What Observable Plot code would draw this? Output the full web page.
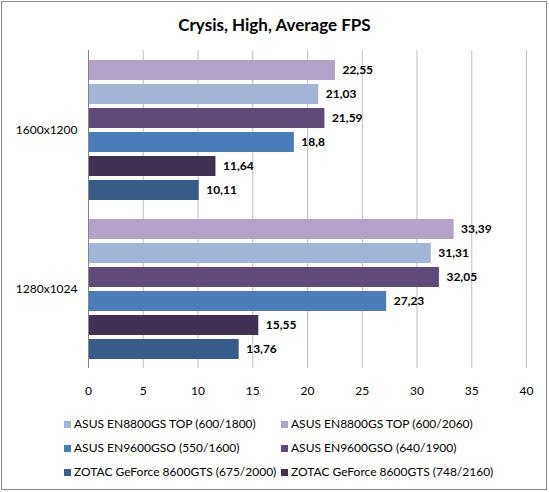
<!DOCTYPE html>
<html>
<head>
<meta charset="utf-8">
<script src="https://cdn.jsdelivr.net/npm/d3@7"></script>
<script src="https://cdn.jsdelivr.net/npm/@observablehq/plot@0.6"></script>
<style>
  html, body { margin: 0; padding: 0; background: #fff; }
  #wrap { position: relative; width: 549px; height: 492px; overflow: hidden; font-family: Lato, "Open Sans", sans-serif; }
  #frame { position: absolute; left: 1px; top: 1px; width: 544px; height: 487px; border: 1px solid #8a8a8a; }
  #title { position: absolute; left: 0; width: 549px; top: 14px; line-height: 22px; text-align: center; font-weight: bold; font-size: 17px; color: #000; }
  #chart { position: absolute; left: 0; top: 0; }
  .leg { position: absolute; font-size: 12px; line-height: 14px; color: #000; white-space: nowrap; }
  .sw { position: absolute; width: 7px; height: 7px; }
</style>
</head>
<body>
<div id="wrap">
  <div id="frame"></div>
  <div id="title">Crysis, High, Average FPS</div>
  <div id="chart"></div>
</div>
<script>
const categories = ["1600x1200", "1280x1024"];
const seriesNames = [
  "ASUS EN8800GS TOP (600/2060)",
  "ASUS EN8800GS TOP (600/1800)",
  "ASUS EN9600GSO (640/1900)",
  "ASUS EN9600GSO (550/1600)",
  "ZOTAC GeForce 8600GTS (748/2160)",
  "ZOTAC GeForce 8600GTS (675/2000)"
];
const en8800_2060 = [22.55, 33.39];
const en8800_1800 = [21.03, 31.31];
const en9600_1900 = [21.59, 32.05];
const en9600_1600 = [18.8, 27.23];
const zotac_2160 = [11.64, 15.55];
const zotac_2000 = [10.11, 13.76];
const xTicks = [0, 5, 10, 15, 20, 25, 30, 35, 40];
const legendOrder = [
  "ASUS EN8800GS TOP (600/1800)", "ASUS EN8800GS TOP (600/2060)",
  "ASUS EN9600GSO (550/1600)", "ASUS EN9600GSO (640/1900)",
  "ZOTAC GeForce 8600GTS (675/2000)", "ZOTAC GeForce 8600GTS (748/2160)"
];

const seriesValues = [en8800_2060, en8800_1800, en9600_1900, en9600_1600, zotac_2160, zotac_2000];
const colors = ["#b3a2c7", "#a2b5d7", "#604a7b", "#4a7ebb", "#403152", "#385d8a"];

const data = [];
categories.forEach((c, ci) => {
  seriesNames.forEach((s, si) => {
    data.push({category: c, series: s, value: seriesValues[si][ci]});
  });
});

const fmt = v => String(v).replace(".", ",");

const chart = Plot.plot({
  width: 549,
  height: 400,
  marginTop: 50,
  marginBottom: 32,
  marginLeft: 88,
  marginRight: 23,
  style: {fontFamily: "Lato, 'Open Sans', sans-serif", background: "transparent", color: "#000"},
  x: {domain: [0, 40], axis: null},
  y: {domain: seriesNames, paddingInner: 0.18, paddingOuter: 0.335, axis: null},
  fy: {domain: categories, padding: 0, axis: null},
  color: {domain: seriesNames, range: colors},
  marks: [
    Plot.gridX({ticks: xTicks.slice(1), stroke: "#bfbfbf", strokeOpacity: 1}),
    Plot.barX(data, {x: "value", y: "series", fy: "category", fill: "series"}),
    Plot.text(data, {x: "value", y: "series", fy: "category", text: d => fmt(d.value),
      textAnchor: "start", dx: 7, fontWeight: "bold", fontSize: 12, fill: "#000"}),
    Plot.ruleX([0], {stroke: "#868686", strokeWidth: 1}),
    Plot.axisX({ticks: xTicks, tickSize: 0, tickPadding: 18, fontSize: 12, label: null, anchor: "bottom"}),
    Plot.axisFy({anchor: "left", tickSize: 0, tickPadding: 11, fontSize: 12, label: null})
  ]
});
document.getElementById("chart").appendChild(chart);

// Legend
const wrap = document.getElementById("wrap");
const colorOf = s => colors[seriesNames.indexOf(s)];
const colX = [64, 281];
const rowY = [424, 448, 472];
legendOrder.forEach((s, i) => {
  const col = i % 2, row = Math.floor(i / 2);
  const sw = document.createElement("div");
  sw.className = "sw";
  sw.style.left = colX[col] + "px";
  sw.style.top = (rowY[row] - 3.5) + "px";
  sw.style.background = colorOf(s);
  wrap.appendChild(sw);
  const t = document.createElement("div");
  t.className = "leg";
  t.style.left = (colX[col] + 10) + "px";
  t.style.top = (rowY[row] - 7) + "px";
  t.textContent = s;
  wrap.appendChild(t);
});
</script>
</body>
</html>
